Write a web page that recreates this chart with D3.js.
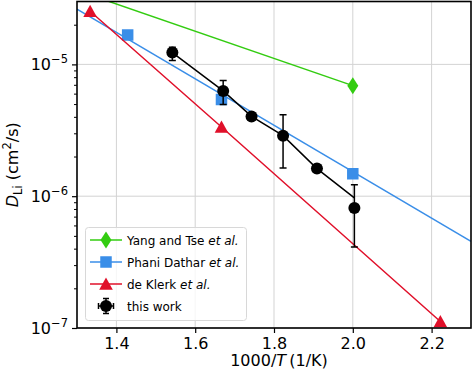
<!DOCTYPE html>
<html>
<head>
<meta charset="utf-8">
<script src="https://cdn.jsdelivr.net/npm/d3@7"></script>
<style>
  body { margin: 0; background: #fff; }
  svg { display: block; font-family: "DejaVu Sans", sans-serif; }
</style>
</head>
<body>
<div id="chart"></div>
<script>
// Values (x = 1000/T in 1/K, D in cm^2/s)
var yangX = [1.25, 2.0]
var yangD = [4.1e-5, 6.9e-6]

var phaniX = [1.4286, 1.6667, 2.0]
var phaniD = [1.67e-5, 5.42e-6, 1.48e-6]
var phaniFitX = [1.3, 2.3]
var phaniFitD = [2.62e-5, 4.55e-7]

var klerkX = [1.3333, 1.6667, 2.2222]
var klerkD = [2.53e-5, 3.35e-6, 1.12e-7]

var workX = [1.542, 1.671, 1.743, 1.823, 1.909, 2.004]
var workD = [1.23e-5, 6.29e-6, 4.03e-6, 2.88e-6, 1.62e-6, 8.15e-7]
var workLo = [1.07e-5, 4.97e-6, 4.03e-6, 1.64e-6, 1.62e-6, 4.11e-7]
var workHi = [1.35e-5, 7.56e-6, 4.03e-6, 4.14e-6, 1.62e-6, 1.22e-6]
var workLineD = [1.23e-5, 6.29e-6, 4.03e-6, 2.88e-6, 1.62e-6, 9.7e-7]

var xTicks = [1.4, 1.6, 1.8, 2.0, 2.2]
var yTicks = [1e-7, 1e-6, 1e-5]
var yTickExp = ['\u22127', '\u22126', '\u22125']

var legendNames = ['Yang and Tse ', 'Phani Dathar ', 'de Klerk ', 'this work']
var legendItalic = ['et al.', 'et al.', 'et al.', '']

var green = '#33cc11'
var blue = '#3a8ee8'
var red = '#e0102a'

// Dimensions
var width = 474
var height = 375
var margin = { top: 1.5, right: 3, bottom: 47, left: 77 }
var x0 = margin.left, x1 = width - margin.right
var y0 = margin.top, y1 = height - margin.bottom

var x = d3.scaleLinear().domain([1.3, 2.3]).range([x0, x1])
var y = d3.scaleLog().domain([1e-7, 3e-5]).range([y1, y0])

var svg = d3.select('#chart').append('svg')
  .attr('width', width)
  .attr('height', height)

svg.append('defs').append('clipPath')
  .attr('id', 'plotClip')
  .append('rect')
  .attr('x', x0).attr('y', y0)
  .attr('width', x1 - x0).attr('height', y1 - y0)

// Grid
var grid = svg.append('g').attr('stroke', '#d3d3d3').attr('stroke-width', 1)
xTicks.forEach(function (t) {
  grid.append('line').attr('x1', x(t)).attr('x2', x(t)).attr('y1', y0).attr('y2', y1)
})
yTicks.forEach(function (t) {
  grid.append('line').attr('x1', x0).attr('x2', x1).attr('y1', y(t)).attr('y2', y(t))
})

// Axes
var xAxis = d3.axisBottom(x).tickValues(xTicks).tickSize(5).tickPadding(5)
  .tickFormat(d3.format('.1f'))
var gx = svg.append('g').attr('transform', 'translate(0,' + y1 + ')').call(xAxis)
gx.select('.domain').remove()
gx.selectAll('line').attr('stroke', '#000').attr('stroke-width', 1.2)
gx.selectAll('text').attr('fill', '#000').attr('font-size', 16)
  .attr('font-family', '"DejaVu Sans", sans-serif')

var minor = []
;[1e-7, 1e-6, 1e-5].forEach(function (dec) {
  for (var k = 2; k <= 9; k++) {
    if (dec * k <= 3e-5) minor.push(dec * k)
  }
})
var yAxisMinor = d3.axisLeft(y).tickValues(minor).tickSize(3).tickFormat('')
var gyMinor = svg.append('g').attr('transform', 'translate(' + x0 + ',0)').call(yAxisMinor)
gyMinor.select('.domain').remove()
gyMinor.selectAll('line').attr('stroke', '#000').attr('stroke-width', 1)

var yAxis = d3.axisLeft(y).tickValues(yTicks).tickSize(5).tickFormat('')
var gy = svg.append('g').attr('transform', 'translate(' + x0 + ',0)').call(yAxis)
gy.select('.domain').remove()
gy.selectAll('line').attr('stroke', '#000').attr('stroke-width', 1.2)

var yLab = svg.append('g').attr('font-size', 16).attr('fill', '#000')
yTicks.forEach(function (t, i) {
  var txt = yLab.append('text')
    .attr('x', x0 - 9)
    .attr('y', y(t) + 6)
    .attr('text-anchor', 'end')
  txt.append('tspan').text('10')
  txt.append('tspan').attr('font-size', 11.5).attr('dy', -7).text(yTickExp[i])
})

// Data, clipped to the plot area
var plot = svg.append('g').attr('clip-path', 'url(#plotClip)')
var line = d3.line().x(function (d) { return x(d[0]) }).y(function (d) { return y(d[1]) })

var markers = {
  diamond: 'M0,-8.5L5.5,0L0,8.5L-5.5,0Z',
  square: 'M-5.75,-5.75H5.75V5.75H-5.75Z',
  triangle: 'M0,-6.5L6.8,5.8L-6.8,5.8Z',
  circle: d3.symbol().type(d3.symbolCircle).size(Math.PI * 36)()
}

function series(xs, ys, color, shape, lineXs, lineYs) {
  var lx = lineXs || xs, ly = lineYs || ys
  plot.append('path')
    .datum(d3.zip(lx, ly))
    .attr('d', line)
    .attr('fill', 'none')
    .attr('stroke', color)
    .attr('stroke-width', 1.5)
  plot.selectAll(null)
    .data(d3.zip(xs, ys))
    .enter().append('path')
    .attr('d', markers[shape])
    .attr('transform', function (d) { return 'translate(' + x(d[0]) + ',' + y(d[1]) + ')' })
    .attr('fill', color)
}

series(yangX, yangD, green, 'diamond')
series(phaniX, phaniD, blue, 'square', phaniFitX, phaniFitD)
series(klerkX, klerkD, red, 'triangle')

// this work: line, error bars, markers
plot.append('path')
  .datum(d3.zip(workX, workLineD))
  .attr('d', line)
  .attr('fill', 'none')
  .attr('stroke', '#000')
  .attr('stroke-width', 1.5)

var eb = plot.append('g').attr('stroke', '#000').attr('stroke-width', 1.5)
workX.forEach(function (v, i) {
  var cx = x(v)
  eb.append('line').attr('x1', cx).attr('x2', cx).attr('y1', y(workLo[i])).attr('y2', y(workHi[i]))
  eb.append('line').attr('x1', cx - 3.5).attr('x2', cx + 3.5).attr('y1', y(workLo[i])).attr('y2', y(workLo[i]))
  eb.append('line').attr('x1', cx - 3.5).attr('x2', cx + 3.5).attr('y1', y(workHi[i])).attr('y2', y(workHi[i]))
})
plot.selectAll(null)
  .data(d3.zip(workX, workD))
  .enter().append('path')
  .attr('d', markers.circle)
  .attr('transform', function (d) { return 'translate(' + x(d[0]) + ',' + y(d[1]) + ')' })
  .attr('fill', '#000')

// Frame
svg.append('rect')
  .attr('x', x0).attr('y', y0)
  .attr('width', x1 - x0).attr('height', y1 - y0)
  .attr('fill', 'none')
  .attr('stroke', '#000')
  .attr('stroke-width', 1.6)

// Axis labels
var xl = svg.append('text')
  .attr('x', 279).attr('y', 366)
  .attr('text-anchor', 'middle')
  .attr('font-size', 16)
xl.append('tspan').text('1000/')
xl.append('tspan').attr('font-style', 'italic').text('T')
xl.append('tspan').text('\u2009(1/K)')

var yl = svg.append('text')
  .attr('transform', 'translate(18,' + ((y0 + y1) / 2) + ') rotate(-90)')
  .attr('text-anchor', 'middle')
  .attr('font-size', 16)
yl.append('tspan').attr('font-style', 'italic').text('D')
yl.append('tspan').attr('font-size', 11.5).attr('dy', 4).text('Li')
yl.append('tspan').attr('dy', -4).text(' (cm')
yl.append('tspan').attr('font-size', 11.5).attr('dy', -7).text('2')
yl.append('tspan').attr('dy', 7).text('/s)')

// Legend
var legend = svg.append('g')
legend.append('rect')
  .attr('x', 85.5).attr('y', 227.5)
  .attr('width', 161).attr('height', 93)
  .attr('rx', 3)
  .attr('fill', '#fff')
  .attr('fill-opacity', 0.8)
  .attr('stroke', '#d8d8d8')
  .attr('stroke-width', 1)

var legendColors = [green, blue, red, '#000']
var legendShapes = ['diamond', 'square', 'triangle', 'circle']
legendNames.forEach(function (name, i) {
  var cy = 240 + i * 22
  var row = legend.append('g')
  if (i < 3) {
    row.append('line').attr('x1', 90).attr('x2', 122).attr('y1', cy).attr('y2', cy)
      .attr('stroke', legendColors[i]).attr('stroke-width', 1.5)
  } else {
    var eg = row.append('g').attr('stroke', '#000').attr('stroke-width', 1.5)
    eg.append('line').attr('x1', 98.5).attr('x2', 113.5).attr('y1', cy).attr('y2', cy)
    eg.append('line').attr('x1', 106).attr('x2', 106).attr('y1', cy - 7.5).attr('y2', cy + 7.5)
    eg.append('line').attr('x1', 98.5).attr('x2', 98.5).attr('y1', cy - 3).attr('y2', cy + 3)
    eg.append('line').attr('x1', 113.5).attr('x2', 113.5).attr('y1', cy - 3).attr('y2', cy + 3)
    eg.append('line').attr('x1', 103).attr('x2', 109).attr('y1', cy - 7.5).attr('y2', cy - 7.5)
    eg.append('line').attr('x1', 103).attr('x2', 109).attr('y1', cy + 7.5).attr('y2', cy + 7.5)
  }
  row.append('path')
    .attr('d', markers[legendShapes[i]])
    .attr('transform', 'translate(106,' + cy + ')')
    .attr('fill', legendColors[i])
  var t = row.append('text')
    .attr('x', 127).attr('y', cy + 4.5)
    .attr('font-size', 12)
  t.append('tspan').text(name)
  if (legendItalic[i]) t.append('tspan').attr('font-style', 'italic').text(legendItalic[i])
})
</script>
</body>
</html>
